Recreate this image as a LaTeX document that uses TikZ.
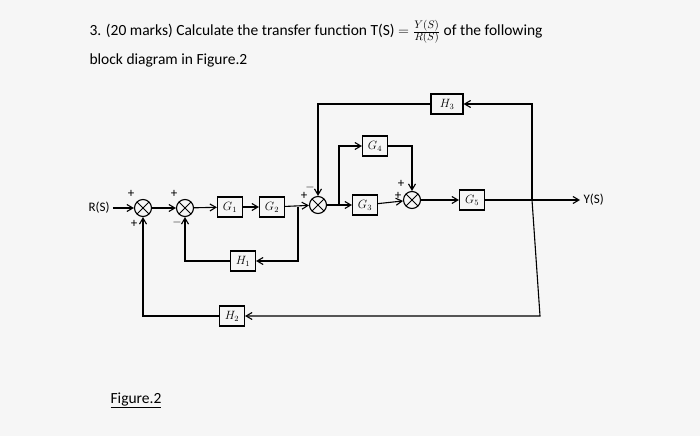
\documentclass[tikz,border=0pt]{standalone}
\usepackage{fontspec}
\setmainfont{Carlito}
\usetikzlibrary{arrows.meta}
\begin{document}
\begin{tikzpicture}[x=1pt,y=-1pt,
  blk/.style={draw,line width=1.1pt,minimum width=25pt,minimum height=20pt,inner sep=1pt,font=\fontsize{12}{14}\selectfont},
  sumj/.style={draw,circle,line width=1.1pt,minimum size=17pt,inner sep=0pt,path picture={\draw[line width=1pt] (path picture bounding box.south west)--(path picture bounding box.north east) (path picture bounding box.north west)--(path picture bounding box.south east);}},
  ar/.style={line width=1.1pt,-{Straight Barb[length=6pt,width=7pt]}},
  sg/.style={font=\fontsize{13}{14}\selectfont,inner sep=1pt}]
\fill[white!93!gray] (0,0) rectangle (700,436);
\useasboundingbox (0,0) rectangle (700,436);
\node[anchor=west,font=\fontsize{15.5}{18}\selectfont] (t1) at (86,32) {3. (20 marks) Calculate the transfer function T(S) $=\frac{Y(S)}{R(S)}$ of the following};
\node[anchor=west,font=\fontsize{15.5}{18}\selectfont] (t2) at (86,60) {block diagram in Figure.2};
\node[font=\fontsize{15.5}{18}\selectfont] (fig) at (136,400) {\underline{Figure.2}};
\node[font=\fontsize{13}{15}\selectfont] (R) at (99,208) {R(S)};
\node[sumj] (s1) at (143,208) {};
\node[sumj] (s2) at (185,208) {};
\node[blk] (G1) at (230,207) {$G_1$};
\node[blk] (G2) at (272,207) {$G_2$};
\node[sumj] (s3) at (318,205) {};
\node[blk] (G3) at (365,205) {$G_3$};
\node[blk] (G4) at (375,146) {$G_4$};
\node[sumj] (s4) at (412,200) {};
\node[blk] (G5) at (472,200) {$G_5$};
\node[anchor=west,font=\fontsize{13}{15}\selectfont] (Y) at (580,200) {Y(S)};
\node[blk] (H1) at (243,261) {$H_1$};
\node[blk] (H2) at (232,316) {$H_2$};
\node[blk,minimum width=32pt] (H3) at (447,104) {$H_3$};
\coordinate (b1) at (298,207);
\coordinate (b2) at (339,205);
\coordinate (b3) at (532,200);
\draw[ar] (R)--(s1);
\draw[ar] (s1)--(s2);
\draw[ar] (s2)--(G1);
\draw[ar] (G1)--(G2);
\draw[ar] (G2)--(s3);
\draw[ar] (s3)--(G3);
\draw[ar] (G3)--(s4);
\draw[ar] (s4)--(G5);
\draw[ar] (G5)--(Y);
\draw[ar] (b1)|-(H1);
\draw[ar] (H1)-|(s2);
\draw[ar] (b2)|-(G4);
\draw[ar] (G4)-|(s4);
\draw[ar] (b3)|-(H3);
\draw[ar] (H3)-|(s3);
\draw[ar] (b3)--(540,316)--(H2);
\draw[ar] (H2)-|(s1);
\node[sg] at (131,194) {+};
\node[sg] at (134,224) {+};
\node[sg] at (174,194) {+};
\node[sg] at (177,222) {$-$};
\node[sg] at (304,196) {+};
\node[sg] at (310,187) {$-$};
\node[sg] at (401,184) {+};
\node[sg] at (398,196) {+};
\end{tikzpicture}
\end{document}
